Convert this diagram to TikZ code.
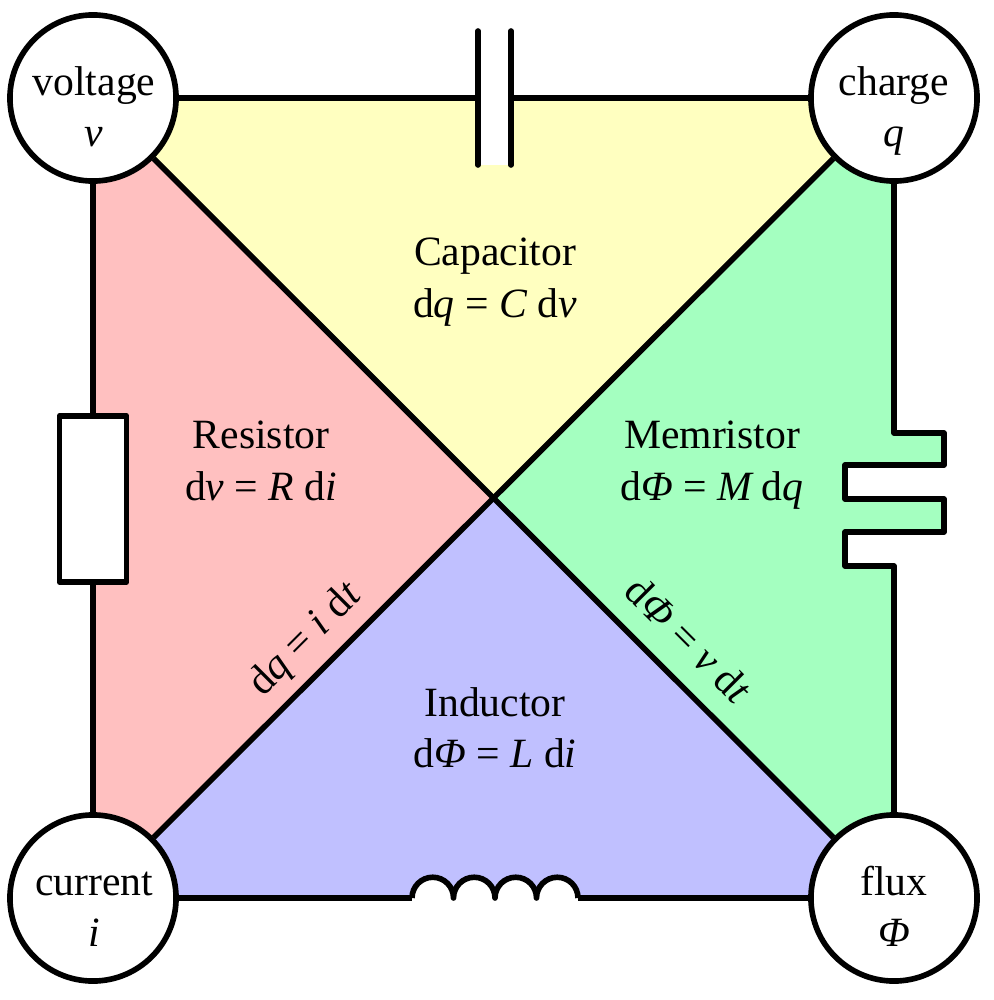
\documentclass[tikz,border=0pt]{standalone}
\usepackage{fontspec}
\setmainfont{Liberation Serif}
\definecolor{cCap}{HTML}{FFFFC0}
\definecolor{cRes}{HTML}{FFC0C0}
\definecolor{cMem}{HTML}{A4FFC0}
\definecolor{cInd}{HTML}{C0C0FF}
\tikzset{
  every node/.style={font=\fontsize{11.85}{14.6}\selectfont, text=black, align=center},
  wire/.style={draw=black, line width=1.6pt, line join=round},
  var/.style={circle, wire, fill=white, minimum size=1.66cm, inner sep=0pt},
  resbox/.style={rectangle, wire, fill=white, minimum width=0.67cm, minimum height=1.66cm, inner sep=0pt},
  law/.style={inner sep=1pt},
}
\begin{document}
\begin{tikzpicture}[x=0.01cm,y=-0.01cm]
\useasboundingbox (0,-1) rectangle (994,999);
% regions
\fill[cRes] (93,97) -- (494,497) -- (93,897) -- cycle;
\fill[cCap] (93,97) -- (478,97) -- (478,164) -- (511,164) -- (511,97) -- (894,97) -- (494,497) -- cycle;
\fill[cMem] (894,97) -- (894,432) -- (944,432) -- (944,464) -- (845,464) -- (845,498) -- (944,498) -- (944,531) -- (845,531) -- (845,565) -- (894,565) -- (894,897) -- (494,497) -- cycle;
\fill[cInd] (494,497) -- (894,897) -- (578,897) arc[start angle=0,end angle=-180,radius=20.75] arc[start angle=0,end angle=-180,radius=20.75] arc[start angle=0,end angle=-180,radius=20.75] arc[start angle=0,end angle=-180,radius=20.75] -- (93,897) -- cycle;
% corners
\node[var] (voltage) at (93,97) {};
\node[var] (charge) at (894,97) {};
\node[var] (current) at (93,897) {};
\node[var] (flux) at (894,897) {};
\node[law] (voltageText) at (94,110) {\strut voltage\\\strut\textit{v}};
\node[law] (chargeText) at (894,110) {\strut charge\\\strut\textit{q}};
\node[law] (currentText) at (94,910) {\strut current\\\strut\textit{i}};
\node[law] (fluxText) at (894,910) {\strut flux\\\strut\textit{Φ}};
% capacitor
\coordinate (capL) at (478,97);
\coordinate (capR) at (511,97);
\coordinate (capLt) at (478,30);
\coordinate (capLb) at (478,164);
\coordinate (capRt) at (511,30);
\coordinate (capRb) at (511,164);
\draw[wire] (voltage) -- (capL);
\draw[wire] (capR) -- (charge);
\draw[wire, line cap=round] (capLt) -- (capLb);
\draw[wire, line cap=round] (capRt) -- (capRb);
% resistor
\node[resbox] (resistor) at (93,498) {};
\draw[wire] (voltage) -- (resistor);
\draw[wire] (resistor) -- (current);
% memristor
\coordinate (memIn) at (894,432);
\coordinate (memOut) at (894,565);
\draw[wire] (charge) -- (memIn) -- (944,432) -- (944,464) -- (845,464) -- (845,498) -- (944,498) -- (944,531) -- (845,531) -- (845,565) -- (memOut) -- (flux);
% inductor
\coordinate (indL) at (412,897);
\coordinate (indR) at (578,897);
\draw[wire] (current) -- (indL);
\draw[wire] (indL) \foreach \k in {1,...,4} {arc[start angle=180,end angle=360,radius=20.75]};
\draw[wire] (indR) -- (flux);
% diagonals
\draw[wire] (voltage) -- (flux);
\draw[wire] (charge) -- (current);
% labels
\node[law] (capLabel) at (495,281) {Capacitor\\d\textit{q} = \textit{C} d\textit{v}};
\node[law] (resLabel) at (261,460) {Resistor\\d\textit{v} = \textit{R} d\textit{i}};
\node[law] (memLabel) at (712,464) {Memristor\\d\textit{Φ} = \textit{M}\,d\textit{q}};
\node[law] (indLabel) at (495,727) {Inductor\\d\textit{Φ} = \textit{L} d\textit{i}};
\node[law, rotate=45] (chargeLaw) at (306,639) {d\textit{q} = \textit{i} d\textit{t}};
\node[law, rotate=-45] (fluxLaw) at (689,639) {d\textit{Φ} = \textit{v} d\textit{t}};
\end{tikzpicture}
\end{document}
